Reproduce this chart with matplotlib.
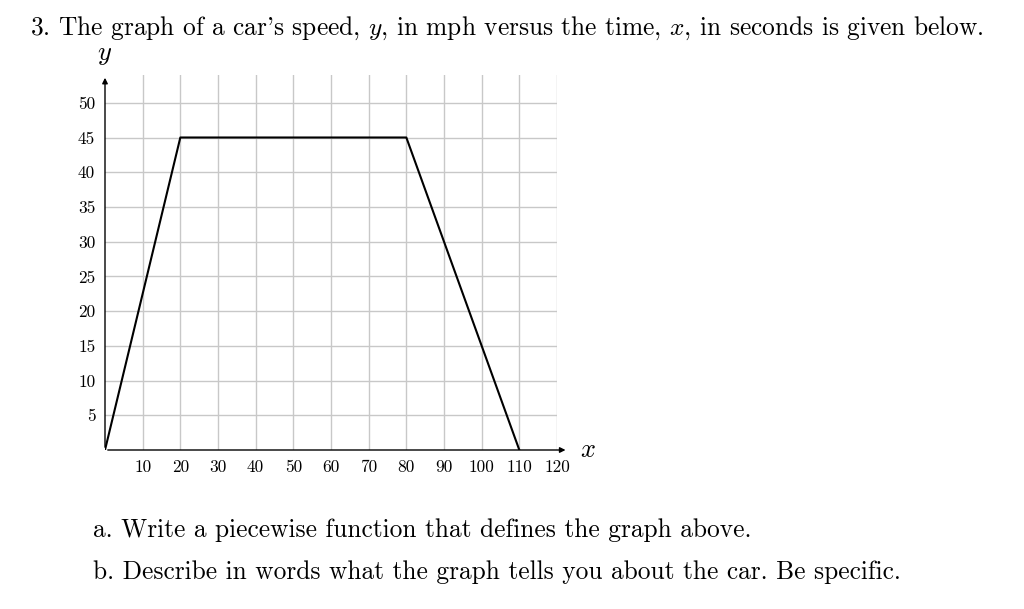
import matplotlib
matplotlib.use("Agg")
import matplotlib.pyplot as plt

plt.rcParams['font.family'] = 'cmr10'
plt.rcParams['mathtext.fontset'] = 'cm'
plt.rcParams['axes.formatter.use_mathtext'] = True

time_s = [0, 20, 80, 110]
speed_mph = [0, 45, 45, 0]
xticks = [10, 20, 30, 40, 50, 60, 70, 80, 90, 100, 110, 120]
yticks = [5, 10, 15, 20, 25, 30, 35, 40, 45, 50]

fig = plt.figure(figsize=(10.24, 6.09), dpi=100)
ax = fig.add_axes([105/1024, 159/609, 452/1024, 375/609])
ax.set_xlim(0, 120)
ax.set_ylim(0, 54)
for xv in xticks:
    ax.axvline(xv, color='#c8c8c8', lw=1, zorder=0)
for yv in yticks:
    ax.axhline(yv, color='#c8c8c8', lw=1, zorder=0)
ax.plot(time_s, speed_mph, color='black', lw=1.5, zorder=3)
for s in ax.spines.values():
    s.set_visible(False)
ax.annotate('', xy=(123, 0), xytext=(0, 0), xycoords='data', annotation_clip=False,
            arrowprops=dict(arrowstyle='-|>', color='black', lw=1, mutation_scale=8))
ax.annotate('', xy=(0, 54), xytext=(0, 0), xycoords='data', annotation_clip=False,
            arrowprops=dict(arrowstyle='-|>', color='black', lw=1, mutation_scale=8))
ax.set_xticks(xticks)
ax.set_yticks(yticks)
ax.set_xticklabels([str(v) for v in xticks], fontsize=12.5)
ax.set_yticklabels([str(v) for v in yticks], fontsize=12.5)
ax.tick_params(length=0, pad=7)
ax.text(126, 0, r'$x$', fontsize=19, va='center', ha='left')
ax.text(0, 56.8, r'$y$', fontsize=19, va='center', ha='center')

fig.text(30/1024, 1-28/609, "3. The graph of a car's speed, $y$, in mph versus the time, $x$, in seconds is given below.",
         fontsize=18.3, va='center', ha='left')
fig.text(93/1024, 1-530/609, "a. Write a piecewise function that defines the graph above.",
         fontsize=18.3, va='center', ha='left')
fig.text(93/1024, 1-572/609, "b. Describe in words what the graph tells you about the car. Be specific.",
         fontsize=18.3, va='center', ha='left')
fig.savefig('out.png', dpi=100, facecolor='white')
